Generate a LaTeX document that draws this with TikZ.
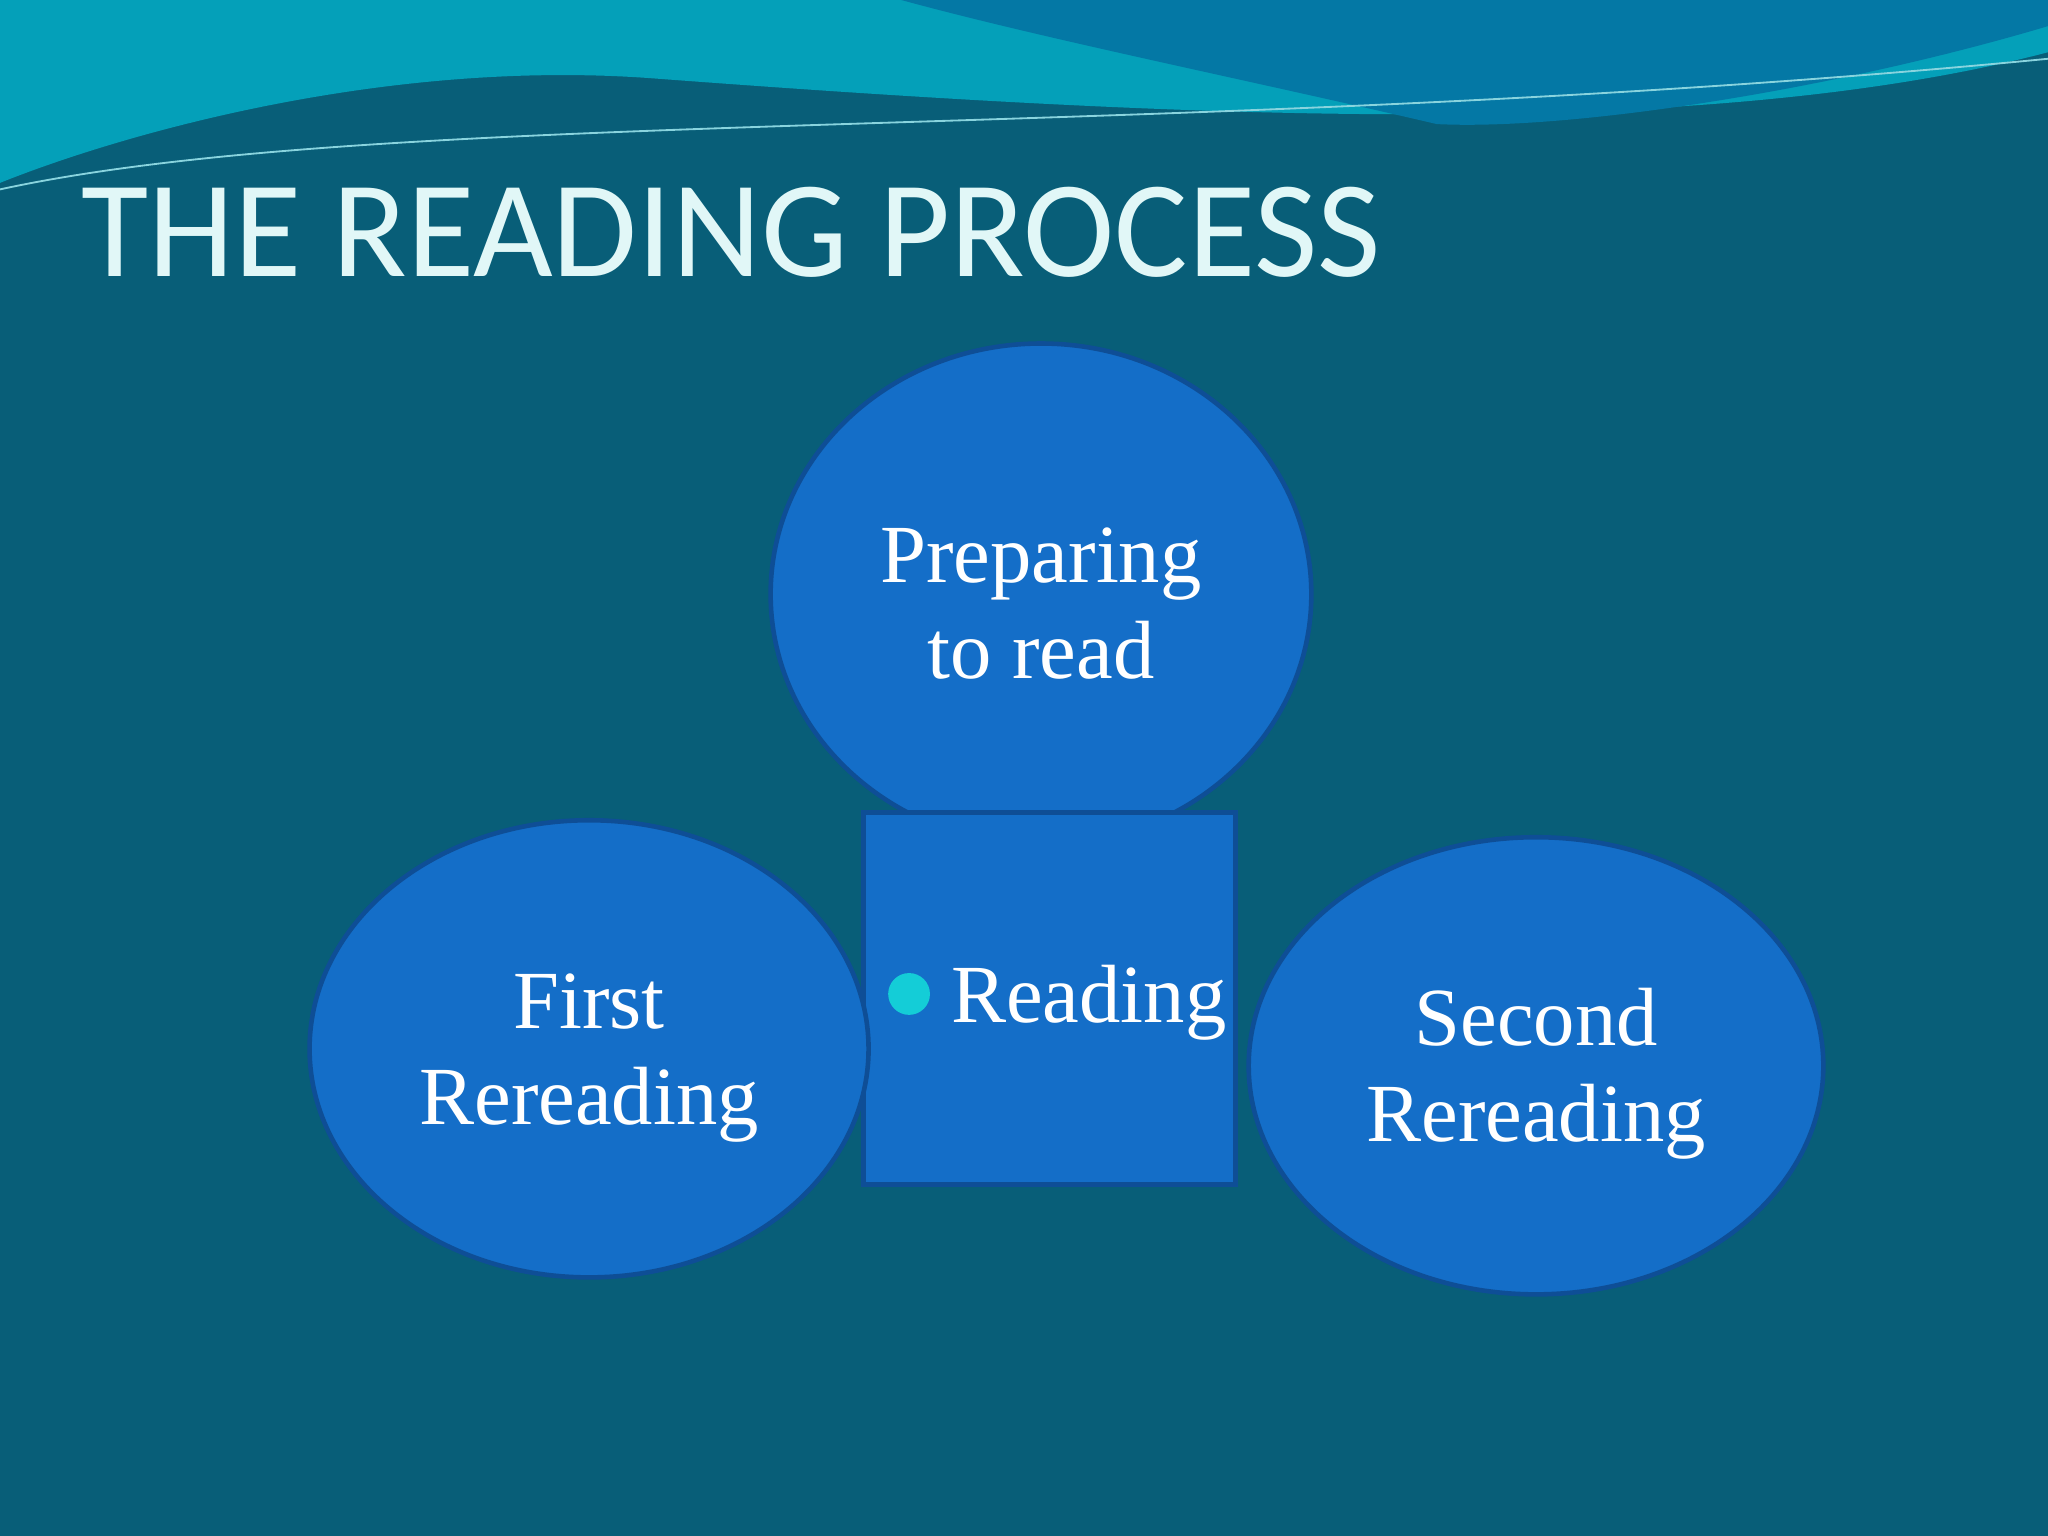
\documentclass[tikz,border=0pt]{standalone}
\usepackage{fontspec}
\setmainfont{Liberation Serif}
\newfontfamily\titlefont{Carlito}
\definecolor{bgc}{RGB}{8,94,120}
\definecolor{shapec}{RGB}{20,110,200}
\definecolor{edgec}{RGB}{14,78,150}
\definecolor{wavea}{RGB}{4,160,185}
\definecolor{waveb}{RGB}{4,120,165}
\definecolor{titlec}{RGB}{225,247,247}
\definecolor{dotc}{RGB}{20,205,215}
\begin{document}
\begin{tikzpicture}[x=0.02cm,y=-0.02cm,
  blob/.style={fill=shapec,draw=edgec,line width=2pt},
  lab/.style={text=white,font=\fontsize{36}{42}\selectfont,align=center}]
\useasboundingbox (0,0) rectangle (1568,1176);
\fill[bgc] (0,0) rectangle (1568,1176);
% waves
\fill[wavea] (0,0) -- (1568,0) -- (1568,40) .. controls (1300,110) and (900,90) .. (500,60)
  .. controls (300,45) and (100,100) .. (0,140) -- cycle;
\fill[waveb] (690,0) -- (1568,0) -- (1568,20) .. controls (1400,70) and (1200,100) .. (1100,95)
  .. controls (950,60) and (800,30) .. (690,0) -- cycle;
\draw[titlec!60!wavea,line width=0.8pt] (0,145) .. controls (300,80) and (900,110) .. (1568,45);
% title
\node[anchor=base west,inner sep=0,text=titlec,font=\titlefont\fontsize{60}{70}\selectfont] (title) at (62,212) {THE READING PROCESS};
% shapes
\path[blob] (797,455) ellipse [x radius=207,y radius=192];
\path[blob] (661,622) rectangle (946,907);
\path[blob] (451,803) ellipse [x radius=214,y radius=175];
\path[blob] (1176,816) ellipse [x radius=220,y radius=175];
\coordinate (top) at (797,462);
\node[lab] (prep) at (top) {Preparing\\to read};
\node[lab] (first) at (451,810) {First\\Rereading};
\node[lab] (second) at (1176,822) {Second\\Rereading};
\node[lab,anchor=west] (read) at (722,768) {Reading};
\fill[dotc] (696,761) circle (16) node (dot) {};
\end{tikzpicture}
\end{document}
